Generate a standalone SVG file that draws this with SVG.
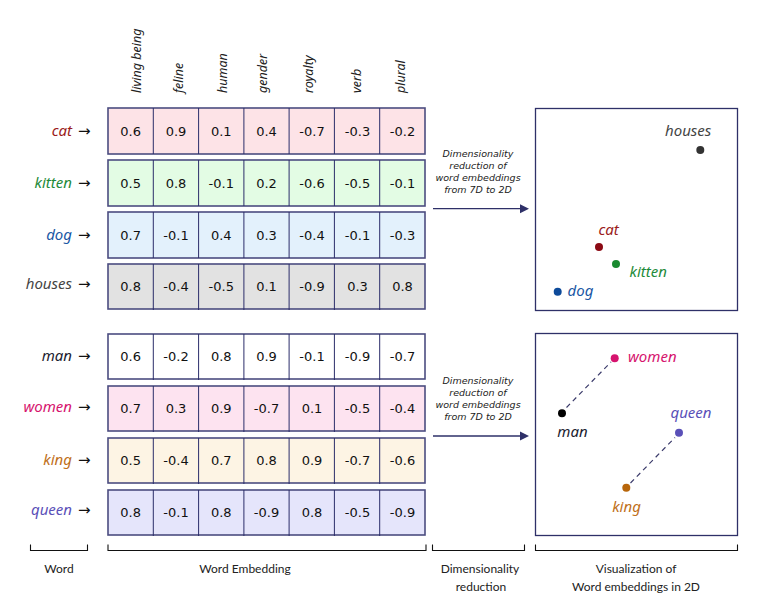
<svg xmlns="http://www.w3.org/2000/svg" width="772" height="614" viewBox="0 0 772 614">
<defs>
<style>
.hdr{font-family:"Noto Sans","Open Sans",sans-serif;font-style:italic;font-size:12.5px;fill:#222}
.w{font-family:"Noto Sans","Open Sans",sans-serif;font-style:italic;font-size:15px;text-anchor:end}
.ar{font-family:"DejaVu Sans",sans-serif;font-size:15px;fill:#111}
.v{font-family:"DejaVu Sans",sans-serif;font-size:13px;fill:#111;text-anchor:middle}
.row{stroke:#4b4d80;stroke-width:1.6}
.sep{stroke:#2b2d6a;stroke-width:1}
.box{fill:#fff;stroke:#2e3068;stroke-width:1.3}
.pl{font-family:"Noto Sans","Open Sans",sans-serif;font-style:italic;font-size:15px}
.dr{font-family:"DejaVu Sans",sans-serif;font-style:oblique;font-size:9.5px;fill:#222;text-anchor:middle}
.bl{font-family:Lato,"Noto Sans",sans-serif;font-size:12px;fill:#222;text-anchor:middle}
.br{fill:none;stroke:#111;stroke-width:1.1}
.dash{stroke:#3a3a6a;stroke-width:1.2;stroke-dasharray:5 4;fill:none}
.arr{stroke:#2e3068;stroke-width:1.3;fill:none}
</style>
<g id="seps">
<path class="sep" d="M153.3 0V46M198.6 0V46M243.9 0V46M289.1 0V46M334.4 0V46M379.7 0V46"/>
</g>
</defs>

<g id="headers">
<text class="hdr" transform="translate(141,93) rotate(-90)">living being</text>
<text class="hdr" transform="translate(183,93) rotate(-90)">feline</text>
<text class="hdr" transform="translate(227,93) rotate(-90)">human</text>
<text class="hdr" transform="translate(267,93) rotate(-90)">gender</text>
<text class="hdr" transform="translate(313,93) rotate(-90)">royalty</text>
<text class="hdr" transform="translate(361,93) rotate(-90)">verb</text>
<text class="hdr" transform="translate(405,93) rotate(-90)">plural</text>
</g>

<g id="row-cat">
<text class="w" x="72" y="136" fill="#9b1c1c">cat</text><text class="ar" x="78" y="136">→</text>
<rect class="row" x="108" y="108" width="317" height="46" fill="#fde3e7"/>
<use href="#seps" y="108"/>
<g class="v"><text x="130.7" y="136">0.6</text><text x="176" y="136">0.9</text><text x="221.3" y="136">0.1</text><text x="266.5" y="136">0.4</text><text x="312" y="136">-0.7</text><text x="357.5" y="136">-0.3</text><text x="402.5" y="136">-0.2</text></g>
</g>

<g id="row-kitten">
<text class="w" x="72" y="188" fill="#1e8b3a">kitten</text><text class="ar" x="78" y="188">→</text>
<rect class="row" x="108" y="160" width="317" height="46" fill="#e3fce4"/>
<use href="#seps" y="160"/>
<g class="v"><text x="130.7" y="188">0.5</text><text x="176" y="188">0.8</text><text x="221.3" y="188">-0.1</text><text x="266.5" y="188">0.2</text><text x="312" y="188">-0.6</text><text x="357.5" y="188">-0.5</text><text x="402.5" y="188">-0.1</text></g>
</g>

<g id="row-dog">
<text class="w" x="72" y="240" fill="#1a57a4">dog</text><text class="ar" x="78" y="240">→</text>
<rect class="row" x="108" y="212" width="317" height="46" fill="#e3f1fc"/>
<use href="#seps" y="212"/>
<g class="v"><text x="130.7" y="240">0.7</text><text x="176" y="240">-0.1</text><text x="221.3" y="240">0.4</text><text x="266.5" y="240">0.3</text><text x="312" y="240">-0.4</text><text x="357.5" y="240">-0.1</text><text x="402.5" y="240">-0.3</text></g>
</g>

<g id="row-houses">
<text class="w" x="72" y="289" fill="#444">houses</text><text class="ar" x="78" y="289">→</text>
<rect class="row" x="108" y="264" width="317" height="45" fill="#e2e2e2"/>
<use href="#seps" y="264"/>
<g class="v"><text x="130.7" y="291">0.8</text><text x="176" y="291">-0.4</text><text x="221.3" y="291">-0.5</text><text x="266.5" y="291">0.1</text><text x="312" y="291">-0.9</text><text x="357.5" y="291">0.3</text><text x="402.5" y="291">0.8</text></g>
</g>

<g id="row-man">
<text class="w" x="72" y="361" fill="#1c1c30">man</text><text class="ar" x="78" y="361">→</text>
<rect class="row" x="108" y="334" width="317" height="45" fill="#ffffff"/>
<use href="#seps" y="334"/>
<g class="v"><text x="130.7" y="361">0.6</text><text x="176" y="361">-0.2</text><text x="221.3" y="361">0.8</text><text x="266.5" y="361">0.9</text><text x="312" y="361">-0.1</text><text x="357.5" y="361">-0.9</text><text x="402.5" y="361">-0.7</text></g>
</g>

<g id="row-women">
<text class="w" x="72" y="412" fill="#d6136e">women</text><text class="ar" x="78" y="412">→</text>
<rect class="row" x="108" y="386" width="317" height="45" fill="#fde3f0"/>
<use href="#seps" y="386"/>
<g class="v"><text x="130.7" y="413">0.7</text><text x="176" y="413">0.3</text><text x="221.3" y="413">0.9</text><text x="266.5" y="413">-0.7</text><text x="312" y="413">0.1</text><text x="357.5" y="413">-0.5</text><text x="402.5" y="413">-0.4</text></g>
</g>

<g id="row-king">
<text class="w" x="72" y="465" fill="#c0701a">king</text><text class="ar" x="78" y="465">→</text>
<rect class="row" x="108" y="438" width="317" height="45" fill="#fdf4e4"/>
<use href="#seps" y="438"/>
<g class="v"><text x="130.7" y="465">0.5</text><text x="176" y="465">-0.4</text><text x="221.3" y="465">0.7</text><text x="266.5" y="465">0.8</text><text x="312" y="465">0.9</text><text x="357.5" y="465">-0.7</text><text x="402.5" y="465">-0.6</text></g>
</g>

<g id="row-queen">
<text class="w" x="72" y="515" fill="#5a50b8">queen</text><text class="ar" x="78" y="515">→</text>
<rect class="row" x="108" y="490" width="317" height="45" fill="#e5e5fb"/>
<use href="#seps" y="490"/>
<g class="v"><text x="130.7" y="517">0.8</text><text x="176" y="517">-0.1</text><text x="221.3" y="517">0.8</text><text x="266.5" y="517">-0.9</text><text x="312" y="517">0.8</text><text x="357.5" y="517">-0.5</text><text x="402.5" y="517">-0.9</text></g>
</g>

<g id="reduce-top">
<text class="dr" x="478" y="157">Dimensionality</text>
<text class="dr" x="478" y="169">reduction of</text>
<text class="dr" x="478" y="181">word embeddings</text>
<text class="dr" x="478" y="193">from 7D to 2D</text>
</g>
<g id="reduce-bottom">
<text class="dr" x="478" y="384">Dimensionality</text>
<text class="dr" x="478" y="396">reduction of</text>
<text class="dr" x="478" y="408">word embeddings</text>
<text class="dr" x="478" y="420">from 7D to 2D</text>
</g>

<g id="plot-top">
<rect class="box" x="535.5" y="108.5" width="202" height="202"/>
<g id="pt-houses"><circle cx="700.3" cy="150" r="4" fill="#333"/><text class="pl" x="665" y="136" fill="#444">houses</text></g>
<g id="pt-cat"><circle cx="599" cy="247" r="4" fill="#8b0a14"/><text class="pl" x="598.5" y="234.5" fill="#9b1c1c">cat</text></g>
<g id="pt-kitten"><circle cx="616" cy="264" r="4" fill="#1a8a30"/><text class="pl" x="629.5" y="276.5" fill="#1e8b3a">kitten</text></g>
<g id="pt-dog"><circle cx="557.7" cy="291.7" r="4" fill="#0d4a9a"/><text class="pl" x="567.5" y="296" fill="#1a57a4">dog</text></g>
</g>

<g id="plot-bottom">
<rect class="box" x="535.5" y="333.5" width="202" height="202"/>
<g id="pt-women"><circle cx="614.7" cy="358.3" r="4" fill="#d6136e"/><text class="pl" x="628" y="362" fill="#d6136e">women</text></g>
<g id="pt-man"><circle cx="562" cy="413.3" r="4" fill="#000"/><text class="pl" x="572.5" y="437" text-anchor="middle" fill="#1c1c30">man</text></g>
<g id="pt-queen"><circle cx="679" cy="432.7" r="4" fill="#5a50b8"/><text class="pl" x="691" y="417.5" text-anchor="middle" fill="#5a50b8">queen</text></g>
<g id="pt-king"><circle cx="626.3" cy="487.7" r="4" fill="#b8660b"/><text class="pl" x="626.5" y="511.5" text-anchor="middle" fill="#c0701a">king</text></g>
</g>

<g id="connectors">
<path class="arr" d="M433 208.7H522"/>
<polygon points="529,208.7 520,204.2 520,213.2" fill="#2e3068"/>
<path class="arr" d="M433 436H522"/>
<polygon points="529,436 520,431.5 520,440.5" fill="#2e3068"/>
<path class="dash" d="M566.5 407.5L611 362"/>
<path class="dash" d="M630.5 483L675 437.5"/>
</g>

<g id="legend">
<path class="br" d="M30.5 544.5V550.5H87.5V544.5"/>
<path class="br" d="M108 544.5V550.5H426V544.5"/>
<path class="br" d="M432.5 544.5V550.5H524.5V544.5"/>
<path class="br" d="M535.5 544.5V550.5H737.5V544.5"/>
<text class="bl" x="59" y="573">Word</text>
<text class="bl" x="245" y="573">Word Embedding</text>
<text class="bl" x="480" y="573">Dimensionality</text>
<text class="bl" x="481" y="591">reduction</text>
<text class="bl" x="636" y="573">Visualization of</text>
<text class="bl" x="636" y="591">Word embeddings in 2D</text>
</g>
</svg>
